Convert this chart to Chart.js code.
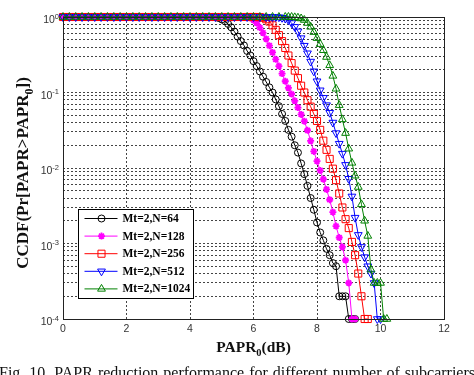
<!DOCTYPE html>
<html lang="en">
<head>
    <meta charset="UTF-8">
    <title>CCDF of PAPR</title>
    <script src="https://cdn.jsdelivr.net/npm/chart.js"></script>
    <style>
        html, body { margin: 0; background: #fff; }
        canvas { display: block; }
    </style>
</head>
<body>
    <canvas id="ccdfChart" width="474" height="375"></canvas>
    <script>
        const seriesLabels = ['Mt=2,N=64', 'Mt=2,N=128', 'Mt=2,N=256', 'Mt=2,N=512', 'Mt=2,N=1024'];

        // PAPR0 (dB) and CCDF values, one pair per curve
        const papr64 = [0, 0.2, 0.4, 0.6, 0.8, 1, 1.2, 1.4, 1.6, 1.8, 2, 2.2, 2.4, 2.6, 2.8, 3, 3.2, 3.4, 3.6, 3.8, 4, 4.2, 4.4, 4.6,
            4.7, 4.8, 4.9, 5.0, 5.1, 5.2, 5.3, 5.4, 5.5, 5.6, 5.7, 5.8, 5.9, 6.0, 6.1, 6.2, 6.3, 6.4, 6.5, 6.6, 6.7, 6.8, 6.9,
            7.0, 7.1, 7.2, 7.3, 7.4, 7.5, 7.6, 7.7, 7.8, 7.9, 8.0, 8.1, 8.2, 8.3, 8.4, 8.5, 8.6, 8.7, 8.8, 8.9, 9.0, 9.1, 9.2];
        const ccdf64 = [1, 1, 1, 1, 1, 1, 1, 1, 1, 1, 1, 1, 1, 1, 1, 1, 1, 1, 1, 1, 1, 1, 1, 1,
            1, 0.99, 0.97, 0.93, 0.88, 0.81, 0.73, 0.64, 0.55, 0.48, 0.42, 0.355, 0.31, 0.26, 0.224, 0.19, 0.162, 0.138, 0.117, 0.1, 0.081, 0.066, 0.052,
            0.042, 0.032, 0.026, 0.02, 0.016, 0.0115, 0.0083, 0.0058, 0.004, 0.0028, 0.0019, 0.0014, 0.0011, 0.00085, 0.0007, 0.00055, 0.0005, 0.0002, 0.0002, 0.0002, 0.0001, 0.0001, 0.0001];

        const papr128 = [0, 0.2, 0.4, 0.6, 0.8, 1, 1.2, 1.4, 1.6, 1.8, 2, 2.2, 2.4, 2.6, 2.8, 3, 3.2, 3.4, 3.6, 3.8, 4, 4.2, 4.4, 4.6, 4.8, 5, 5.2, 5.4,
            5.5, 5.6, 5.7, 5.8, 5.9, 6.0, 6.1, 6.2, 6.3, 6.4, 6.5, 6.6, 6.7, 6.8, 6.9, 7.0, 7.1, 7.2, 7.3, 7.4, 7.5, 7.6, 7.7, 7.8, 7.9,
            8.0, 8.1, 8.2, 8.3, 8.4, 8.5, 8.6, 8.7, 8.8, 8.9, 9.0, 9.1, 9.2];
        const ccdf128 = [1, 1, 1, 1, 1, 1, 1, 1, 1, 1, 1, 1, 1, 1, 1, 1, 1, 1, 1, 1, 1, 1, 1, 1, 1, 1, 1, 1,
            1, 1, 1, 0.99, 0.97, 0.912, 0.832, 0.724, 0.617, 0.513, 0.417, 0.339, 0.275, 0.224, 0.178, 0.141, 0.115, 0.0955, 0.0776, 0.0631, 0.0513, 0.0417, 0.0316, 0.0229, 0.0166,
            0.0123, 0.0093, 0.0071, 0.0052, 0.0038, 0.0026, 0.0017, 0.0012, 0.0009, 0.0006, 0.0003, 0.0001, 0.0001];

        const papr256 = [0, 0.2, 0.4, 0.6, 0.8, 1, 1.2, 1.4, 1.6, 1.8, 2, 2.2, 2.4, 2.6, 2.8, 3, 3.2, 3.4, 3.6, 3.8, 4, 4.2, 4.4, 4.6, 4.8, 5, 5.2, 5.4, 5.6, 5.8,
            5.9, 6.0, 6.1, 6.2, 6.3, 6.4, 6.5, 6.6, 6.7, 6.8, 6.9, 7.0, 7.1, 7.2, 7.3, 7.4, 7.5, 7.6, 7.7, 7.8, 7.9,
            8.0, 8.1, 8.2, 8.3, 8.4, 8.5, 8.6, 8.7, 8.8, 8.9, 9.0, 9.1, 9.2, 9.3, 9.4, 9.5, 9.6];
        const ccdf256 = [1, 1, 1, 1, 1, 1, 1, 1, 1, 1, 1, 1, 1, 1, 1, 1, 1, 1, 1, 1, 1, 1, 1, 1, 1, 1, 1, 1, 1, 1,
            1, 1, 1, 0.995, 0.977, 0.933, 0.871, 0.776, 0.676, 0.575, 0.479, 0.389, 0.309, 0.245, 0.195, 0.155, 0.123, 0.1, 0.079, 0.065, 0.052,
            0.042, 0.032, 0.023, 0.0174, 0.0132, 0.0098, 0.0069, 0.0046, 0.003, 0.0021, 0.0016, 0.00105, 0.0007, 0.0004, 0.0002, 0.0001, 0.0001];

        const papr512 = [0, 0.2, 0.4, 0.6, 0.8, 1, 1.2, 1.4, 1.6, 1.8, 2, 2.2, 2.4, 2.6, 2.8, 3, 3.2, 3.4, 3.6, 3.8, 4, 4.2, 4.4, 4.6, 4.8, 5, 5.2, 5.4, 5.6, 5.8, 6, 6.2, 6.4,
            6.5, 6.6, 6.7, 6.8, 6.9, 7.0, 7.1, 7.2, 7.3, 7.4, 7.5, 7.6, 7.7, 7.8, 7.9,
            8.0, 8.1, 8.2, 8.3, 8.4, 8.5, 8.6, 8.7, 8.8, 8.9, 9.0, 9.1, 9.2, 9.3, 9.4, 9.5, 9.6, 9.7, 9.8, 9.9, 10.0];
        const ccdf512 = [1, 1, 1, 1, 1, 1, 1, 1, 1, 1, 1, 1, 1, 1, 1, 1, 1, 1, 1, 1, 1, 1, 1, 1, 1, 1, 1, 1, 1, 1, 1, 1, 1,
            1, 1, 1, 0.995, 0.977, 0.955, 0.912, 0.832, 0.741, 0.646, 0.525, 0.417, 0.331, 0.257, 0.191,
            0.141, 0.107, 0.085, 0.068, 0.054, 0.04, 0.029, 0.021, 0.0155, 0.011, 0.0072, 0.0042, 0.0022, 0.0013, 0.0009, 0.00066, 0.0005, 0.0004, 0.0003, 0.0001, 0.0001];

        const papr1024 = [0, 0.2, 0.4, 0.6, 0.8, 1, 1.2, 1.4, 1.6, 1.8, 2, 2.2, 2.4, 2.6, 2.8, 3, 3.2, 3.4, 3.6, 3.8, 4, 4.2, 4.4, 4.6, 4.8, 5, 5.2, 5.4, 5.6, 5.8, 6, 6.2, 6.4, 6.6, 6.8, 7,
            7.1, 7.2, 7.3, 7.4, 7.5, 7.6, 7.7, 7.8, 7.9,
            8.0, 8.1, 8.2, 8.3, 8.4, 8.5, 8.6, 8.7, 8.8, 8.9, 9.0, 9.1, 9.2, 9.3, 9.4, 9.5, 9.6, 9.7, 9.8, 9.9, 10.0, 10.1, 10.2];
        const ccdf1024 = [1, 1, 1, 1, 1, 1, 1, 1, 1, 1, 1, 1, 1, 1, 1, 1, 1, 1, 1, 1, 1, 1, 1, 1, 1, 1, 1, 1, 1, 1, 1, 1, 1, 1, 1, 1,
            1, 1, 0.989, 0.977, 0.955, 0.912, 0.832, 0.741, 0.631,
            0.525, 0.437, 0.363, 0.295, 0.229, 0.166, 0.112, 0.068, 0.044, 0.029, 0.018, 0.0117, 0.0079, 0.0056, 0.0033, 0.002, 0.00126, 0.00045, 0.0003, 0.0003, 0.0003, 0.0001, 0.0001];

        const xTickStep = 2;
        const yTickExponents = [0, -1, -2, -3, -4];

        function toPoints(xs, ys) {
            return xs.map((x, i) => ({ x: x, y: ys[i] }));
        }

        const FONT_SANS = '"Liberation Sans", Arial, sans-serif';
        const FONT_SERIF = '"Liberation Serif", "Times New Roman", serif';

        const styles = [
            { color: '#000000', point: 'circle', radius: 3.5, rotation: 0 },
            { color: '#ff00ff', point: 'star', radius: 3.5, rotation: 0 },
            { color: '#ff0000', point: 'rect', radius: 5, rotation: 0 },
            { color: '#0000ff', point: 'triangle', radius: 4.5, rotation: 180 },
            { color: '#008000', point: 'triangle', radius: 4.5, rotation: 0 }
        ];
        const seriesData = [
            toPoints(papr64, ccdf64),
            toPoints(papr128, ccdf128),
            toPoints(papr256, ccdf256),
            toPoints(papr512, ccdf512),
            toPoints(papr1024, ccdf1024)
        ];

        const datasets = seriesData.map((pts, i) => ({
            label: seriesLabels[i],
            data: pts,
            borderColor: styles[i].color,
            backgroundColor: 'rgba(0,0,0,0)',
            borderWidth: 1,
            pointStyle: styles[i].point,
            pointRadius: styles[i].radius,
            pointRotation: styles[i].rotation,
            pointBorderColor: styles[i].color,
            pointBackgroundColor: styles[i].point === 'star' ? styles[i].color : 'rgba(0,0,0,0)',
            pointBorderWidth: styles[i].point === 'star' ? 1.8 : 1,
            tension: 0,
            clip: false,
            order: seriesData.length - i
        }));

        function drawMarker(ctx, st, x, y) {
            ctx.save();
            ctx.strokeStyle = st.color;
            ctx.fillStyle = st.point === 'star' ? st.color : 'rgba(0,0,0,0)';
            ctx.lineWidth = st.point === 'star' ? 1.8 : 1;
            if (Chart.helpers && Chart.helpers.drawPoint) {
                Chart.helpers.drawPoint(ctx, { pointStyle: st.point, rotation: st.rotation, radius: st.radius, borderWidth: ctx.lineWidth }, x, y);
            } else {
                ctx.beginPath();
                ctx.arc(x, y, st.radius, 0, Math.PI * 2);
                ctx.stroke();
            }
            ctx.restore();
        }

        // text run with a subscript part: [[text, isSub], ...]
        function runWidth(ctx, parts, size, subSize, weight) {
            let w = 0;
            parts.forEach(p => {
                ctx.font = weight + ' ' + (p[1] ? subSize : size) + 'px ' + FONT_SERIF;
                w += ctx.measureText(p[0]).width;
            });
            return w;
        }
        function drawRun(ctx, parts, x, y, size, subSize, weight) {
            parts.forEach(p => {
                ctx.font = weight + ' ' + (p[1] ? subSize : size) + 'px ' + FONT_SERIF;
                ctx.fillText(p[0], x, p[1] ? y + size * 0.28 : y);
                x += ctx.measureText(p[0]).width;
            });
        }

        const decorations = {
            id: 'decorations',
            afterDatasetsDraw(chart) {
                const ctx = chart.ctx;
                const area = chart.chartArea;
                const yScale = chart.scales.y;

                ctx.save();
                // axes box
                ctx.strokeStyle = '#222';
                ctx.lineWidth = 1;
                ctx.strokeRect(Math.round(area.left) + 0.5, Math.round(area.top) + 0.5,
                    Math.round(area.right - area.left), Math.round(area.bottom - area.top));

                // y tick labels 10^k
                ctx.fillStyle = '#333';
                ctx.textAlign = 'left';
                ctx.textBaseline = 'alphabetic';
                yTickExponents.forEach(e => {
                    const py = yScale.getPixelForValue(Math.pow(10, e));
                    const expStr = String(e);
                    ctx.font = '7.5px ' + FONT_SANS;
                    const ew = ctx.measureText(expStr).width;
                    ctx.font = '10.5px ' + FONT_SANS;
                    const bw = ctx.measureText('10').width;
                    const right = area.left - 4;
                    ctx.fillText('10', right - ew - bw, py + 6);
                    ctx.font = '7.5px ' + FONT_SANS;
                    ctx.fillText(expStr, right - ew, py + 1.5);
                });

                // legend
                const lx = area.left + 15.5, ly = area.bottom - 109.5, lw = 115, lh = 89;
                ctx.fillStyle = '#fff';
                ctx.fillRect(lx, ly, lw, lh);
                ctx.strokeStyle = '#000';
                ctx.strokeRect(lx, ly, lw, lh);
                seriesLabels.forEach((label, i) => {
                    const cy = ly + 9 + i * 17.6;
                    ctx.strokeStyle = styles[i].color;
                    ctx.lineWidth = 1;
                    ctx.beginPath();
                    ctx.moveTo(lx + 6, cy);
                    ctx.lineTo(lx + 39, cy);
                    ctx.stroke();
                    drawMarker(ctx, styles[i], lx + 23, cy);
                    ctx.fillStyle = '#000';
                    ctx.font = 'bold 11.5px ' + FONT_SERIF;
                    ctx.textBaseline = 'middle';
                    ctx.fillText(label, lx + 44, cy + 0.5);
                });
                ctx.textBaseline = 'alphabetic';

                // x axis title
                const xParts = [['PAPR', false], ['0', true], ['(dB)', false]];
                const xw = runWidth(ctx, xParts, 15.5, 10.5, 'bold');
                ctx.fillStyle = '#111';
                drawRun(ctx, xParts, (area.left + area.right) / 2 - xw / 2, 352, 15.5, 10.5, 'bold');

                // y axis title
                const yParts = [['CCDF(Pr[PAPR>PAPR', false], ['0', true], ['])', false]];
                const yw = runWidth(ctx, yParts, 17, 12, 'bold');
                ctx.save();
                ctx.translate(28, (area.top + area.bottom) / 2 + 5);
                ctx.rotate(-Math.PI / 2);
                drawRun(ctx, yParts, -yw / 2, 0, 17, 12, 'bold');
                ctx.restore();

                // figure caption, cut by the bottom edge
                ctx.font = '16px ' + FONT_SERIF;
                ctx.fillStyle = '#111';
                if ('wordSpacing' in ctx) ctx.wordSpacing = '1px';
                ctx.fillText('Fig. 10. PAPR reduction performance for different number of subcarriers', -1, 378);
                ctx.restore();
            }
        };

        new Chart(document.getElementById('ccdfChart'), {
            type: 'line',
            data: { datasets: datasets },
            options: {
                responsive: false,
                animation: false,
                layout: { padding: { left: 0, right: 30, top: 17, bottom: 0 } },
                plugins: {
                    legend: { display: false },
                    tooltip: { enabled: false }
                },
                scales: {
                    x: {
                        type: 'linear',
                        min: 0,
                        max: 12,
                        ticks: {
                            stepSize: xTickStep,
                            color: '#333',
                            font: { family: FONT_SANS, size: 10.5 },
                            padding: 4,
                            maxRotation: 0
                        },
                        grid: { color: '#444', lineWidth: 1, drawTicks: false },
                        border: { display: false, dash: [2, 2] },
                        afterFit(scale) { scale.height = 56; }
                    },
                    y: {
                        type: 'logarithmic',
                        min: 0.0001,
                        max: 1,
                        ticks: { display: false, autoSkip: false },
                        grid: { color: '#444', lineWidth: 1, drawTicks: false },
                        border: { display: false, dash: [2, 2] },
                        afterBuildTicks(scale) {
                            scale.ticks = scale.ticks.filter(t => {
                                const m = t.value / Math.pow(10, Math.floor(Math.log10(t.value) + 1e-9));
                                return Math.abs(m - Math.round(m)) < 1e-6;
                            });
                        },
                        afterFit(scale) { scale.width = 63; }
                    }
                }
            },
            plugins: [decorations]
        });
    </script>
</body>
</html>
